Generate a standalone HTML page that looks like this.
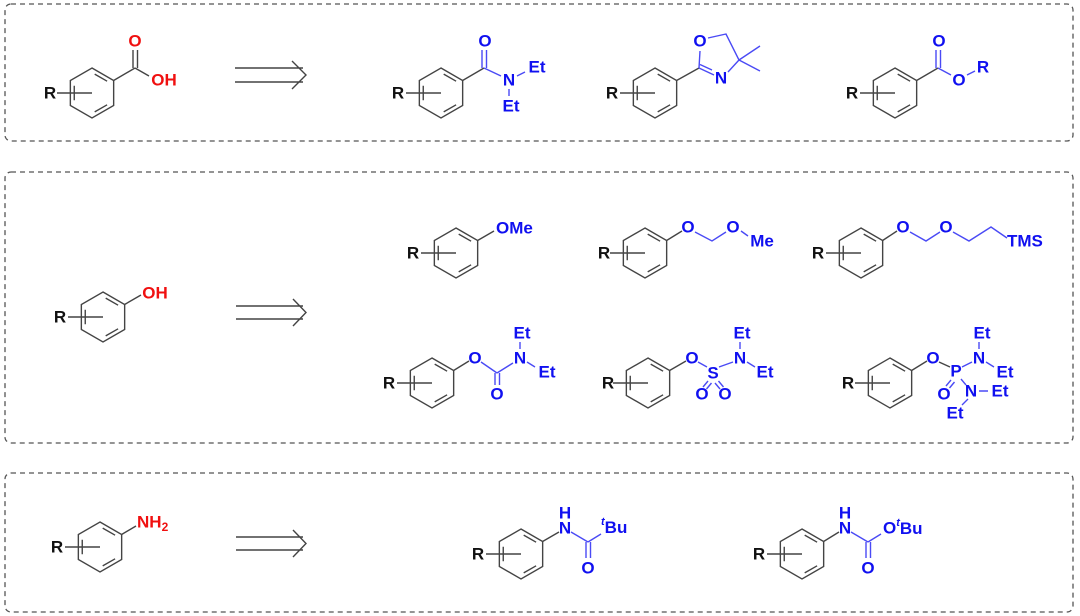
<!DOCTYPE html>
<html><head><meta charset="utf-8"><style>
html,body{margin:0;padding:0;background:#fff;}
svg{display:block;}
text{font-family:"Liberation Sans",Arial,sans-serif;font-weight:bold;font-size:17px;dominant-baseline:central;text-anchor:middle;}
.k{fill:#111;} .b{fill:#1010f0;} .r{fill:#f01010;}
.gl{stroke:#444;stroke-width:1.4;fill:none;}
.bl{stroke:#4a4af5;stroke-width:1.4;fill:none;}
.box{fill:none;stroke:#555;stroke-width:1.3;stroke-dasharray:5 4;}
</style></head><body>
<svg width="1080" height="616" viewBox="0 0 1080 616" xmlns="http://www.w3.org/2000/svg">
<defs>
<g id="ring" class="gl">
<path d="M0,-25 L21.65,-12.5 L21.65,12.5 L0,25 L-21.65,12.5 L-21.65,-12.5 Z"/>
<path d="M2.7,-18.9 L15.1,-11.8 M15.1,11.8 L2.7,18.9 M-17.75,7.2 L-17.75,-7.2 M-35,0 L0,0"/>
</g>
</defs>
<rect class="box" x="5" y="4" width="1068" height="137" rx="6"/>
<rect class="box" x="5" y="172" width="1068" height="271" rx="6"/>
<rect class="box" x="5" y="473" width="1068" height="139" rx="6"/>

<g class="gl" stroke-width="1.5">
<path d="M235,68 L303,68 M235,82 L303,82 M292,61 L306,75 L292,89"/>
<path d="M236,306 L303,306 M236,319 L303,319 M293,299 L306,312.5 L293,326"/>
<path d="M236,537 L303,537 M236,550 L303,550 M293,530 L306,543.5 L293,557"/>
</g>

<use href="#ring" x="92" y="93"/><text class="k" x="50" y="93">R</text>
<path class="gl" d="M113.6,80.5 L135,68 M133,68 L133,50 M137.5,68 L137.5,50 M135,68 L149,76"/>
<text class="r" x="135" y="41">O</text><text class="r" x="164" y="80">OH</text>

<use href="#ring" x="441" y="93"/><text class="k" x="398" y="93">R</text>
<path class="gl" d="M462.6,80.5 L484,68"/>
<path class="bl" d="M482,68 L482,50 M486.5,68 L486.5,50 M484,68 L501,76 M517,76 L525,72 M509,89 L509,96"/>
<text class="b" x="485" y="41">O</text><text class="b" x="509" y="80">N</text>
<text class="b" x="537" y="67">Et</text><text class="b" x="511" y="106">Et</text>

<use href="#ring" x="655" y="93"/><text class="k" x="612" y="93">R</text>
<path class="gl" d="M676.6,80.5 L699,68"/>
<path class="bl" d="M699,68 L700,51 M708,38 L726,34 L739,60 L728,72 M714,75 L699,68 M712,70 L700,64.5 M739,60 L760,46 M739,60 L760,71"/>
<text class="b" x="700" y="41">O</text><text class="b" x="721" y="78">N</text>

<use href="#ring" x="895" y="93"/><text class="k" x="852" y="93">R</text>
<path class="gl" d="M916.6,80.5 L938,68"/>
<path class="bl" d="M936,68 L936,50 M940.5,68 L940.5,50 M938,68 L951,75 M967,75 L975,71"/>
<text class="b" x="939" y="41">O</text><text class="b" x="959" y="80">O</text><text class="b" x="983" y="67">R</text>

<use href="#ring" x="103" y="317"/><text class="k" x="60" y="317">R</text>
<path class="gl" d="M124.6,304.5 L141,295"/>
<text class="r" x="155" y="293">OH</text>

<use href="#ring" x="456" y="253"/><text class="k" x="413" y="253">R</text>
<path class="gl" d="M477.6,240.5 L494,231"/>
<text class="b" x="496" y="228" style="text-anchor:start">OMe</text>

<use href="#ring" x="645" y="253"/><text class="k" x="604" y="253">R</text>
<path class="gl" d="M666.6,240.5 L682,231"/>
<path class="bl" d="M695,232 L712,241 L726,232 M741,231 L748,236"/>
<text class="b" x="688" y="227">O</text><text class="b" x="733" y="227">O</text><text class="b" x="762" y="241">Me</text>

<use href="#ring" x="861" y="253"/><text class="k" x="818" y="253">R</text>
<path class="gl" d="M882.6,240.5 L897,231"/>
<path class="bl" d="M910,232 L926,241 L940,232 M953,232 L969,241 L991,227 L1007,238"/>
<text class="b" x="903" y="227">O</text><text class="b" x="946" y="227">O</text>
<text class="b" x="1007" y="241" style="text-anchor:start">TMS</text>

<use href="#ring" x="432" y="383"/><text class="k" x="389" y="383">R</text>
<path class="gl" d="M453.6,370.5 L469,361"/>
<path class="bl" d="M481,362 L497,373 M495,373 L495,385 M499.5,373 L499.5,385 M497,373 L513,363 M520,349 L520,342 M527,362 L535,367"/>
<text class="b" x="475" y="358">O</text><text class="b" x="497" y="394">O</text><text class="b" x="520" y="358">N</text>
<text class="b" x="522" y="333">Et</text><text class="b" x="547" y="372">Et</text>

<use href="#ring" x="648" y="383"/><text class="k" x="608" y="383">R</text>
<path class="gl" d="M669.6,370.5 L686,361"/>
<path class="bl" d="M698,362 L707,367 M708,381 L703,387 M711.5,383 L706.5,389 M715,383 L720,389 M718.5,381 L723.5,387 M719,367 L733,362 M740,349 L740,342 M747,362 L755,367"/>
<text class="b" x="692" y="358">O</text><text class="b" x="713" y="373">S</text>
<text class="b" x="702" y="394">O</text><text class="b" x="725" y="394">O</text>
<text class="b" x="740" y="358">N</text><text class="b" x="742" y="333">Et</text><text class="b" x="765" y="372">Et</text>

<use href="#ring" x="890" y="383"/><text class="k" x="848" y="383">R</text>
<path class="gl" d="M939,362 L950,367"/>
<path class="gl" d="M911.6,370.5 L927,361"/>
<path class="bl" d="M951,380 L946,386 M954.5,382 L949.5,388 M962,367 L972,362 M979,349 L979,342 M986,362 L994,367 M961,379 L966,385 M979,391 L988,391 M968,399 L962,405"/>
<text class="b" x="933" y="358">O</text><text class="b" x="956" y="371">P</text><text class="b" x="944" y="394">O</text>
<text class="b" x="979" y="358">N</text><text class="b" x="982" y="333">Et</text><text class="b" x="1005" y="372">Et</text>
<text class="b" x="971" y="391">N</text><text class="b" x="1000" y="391">Et</text><text class="b" x="955" y="413">Et</text>

<use href="#ring" x="100" y="547"/><text class="k" x="57" y="547">R</text>
<path class="gl" d="M121.6,534.5 L136,526"/>
<text class="r" x="137" y="522" style="text-anchor:start">NH<tspan font-size="12" dy="5">2</tspan></text>

<use href="#ring" x="521" y="554"/><text class="k" x="478" y="554">R</text>
<path class="gl" d="M542.6,541.5 L559,532"/>
<path class="bl" d="M571,532 L588,542 M586,542 L586,558 M590.5,542 L590.5,558 M588,542 L601,534"/>
<text class="b" x="565" y="528">N</text><text class="b" x="565" y="513">H</text><text class="b" x="588" y="568">O</text>
<text class="b" x="601" y="527" style="text-anchor:start"><tspan font-style="italic" font-size="11" dy="-5">t</tspan><tspan dy="5">Bu</tspan></text>

<use href="#ring" x="802" y="554"/><text class="k" x="759" y="554">R</text>
<path class="gl" d="M823.6,541.5 L839,532"/>
<path class="bl" d="M851,532 L868,542 M866,542 L866,558 M870.5,542 L870.5,558 M868,542 L881,534"/>
<text class="b" x="845" y="528">N</text><text class="b" x="845" y="513">H</text><text class="b" x="868" y="568">O</text>
<text class="b" x="883" y="528" style="text-anchor:start">O<tspan font-style="italic" font-size="11" dy="-5">t</tspan><tspan dy="5">Bu</tspan></text>
</svg>
</body></html>
